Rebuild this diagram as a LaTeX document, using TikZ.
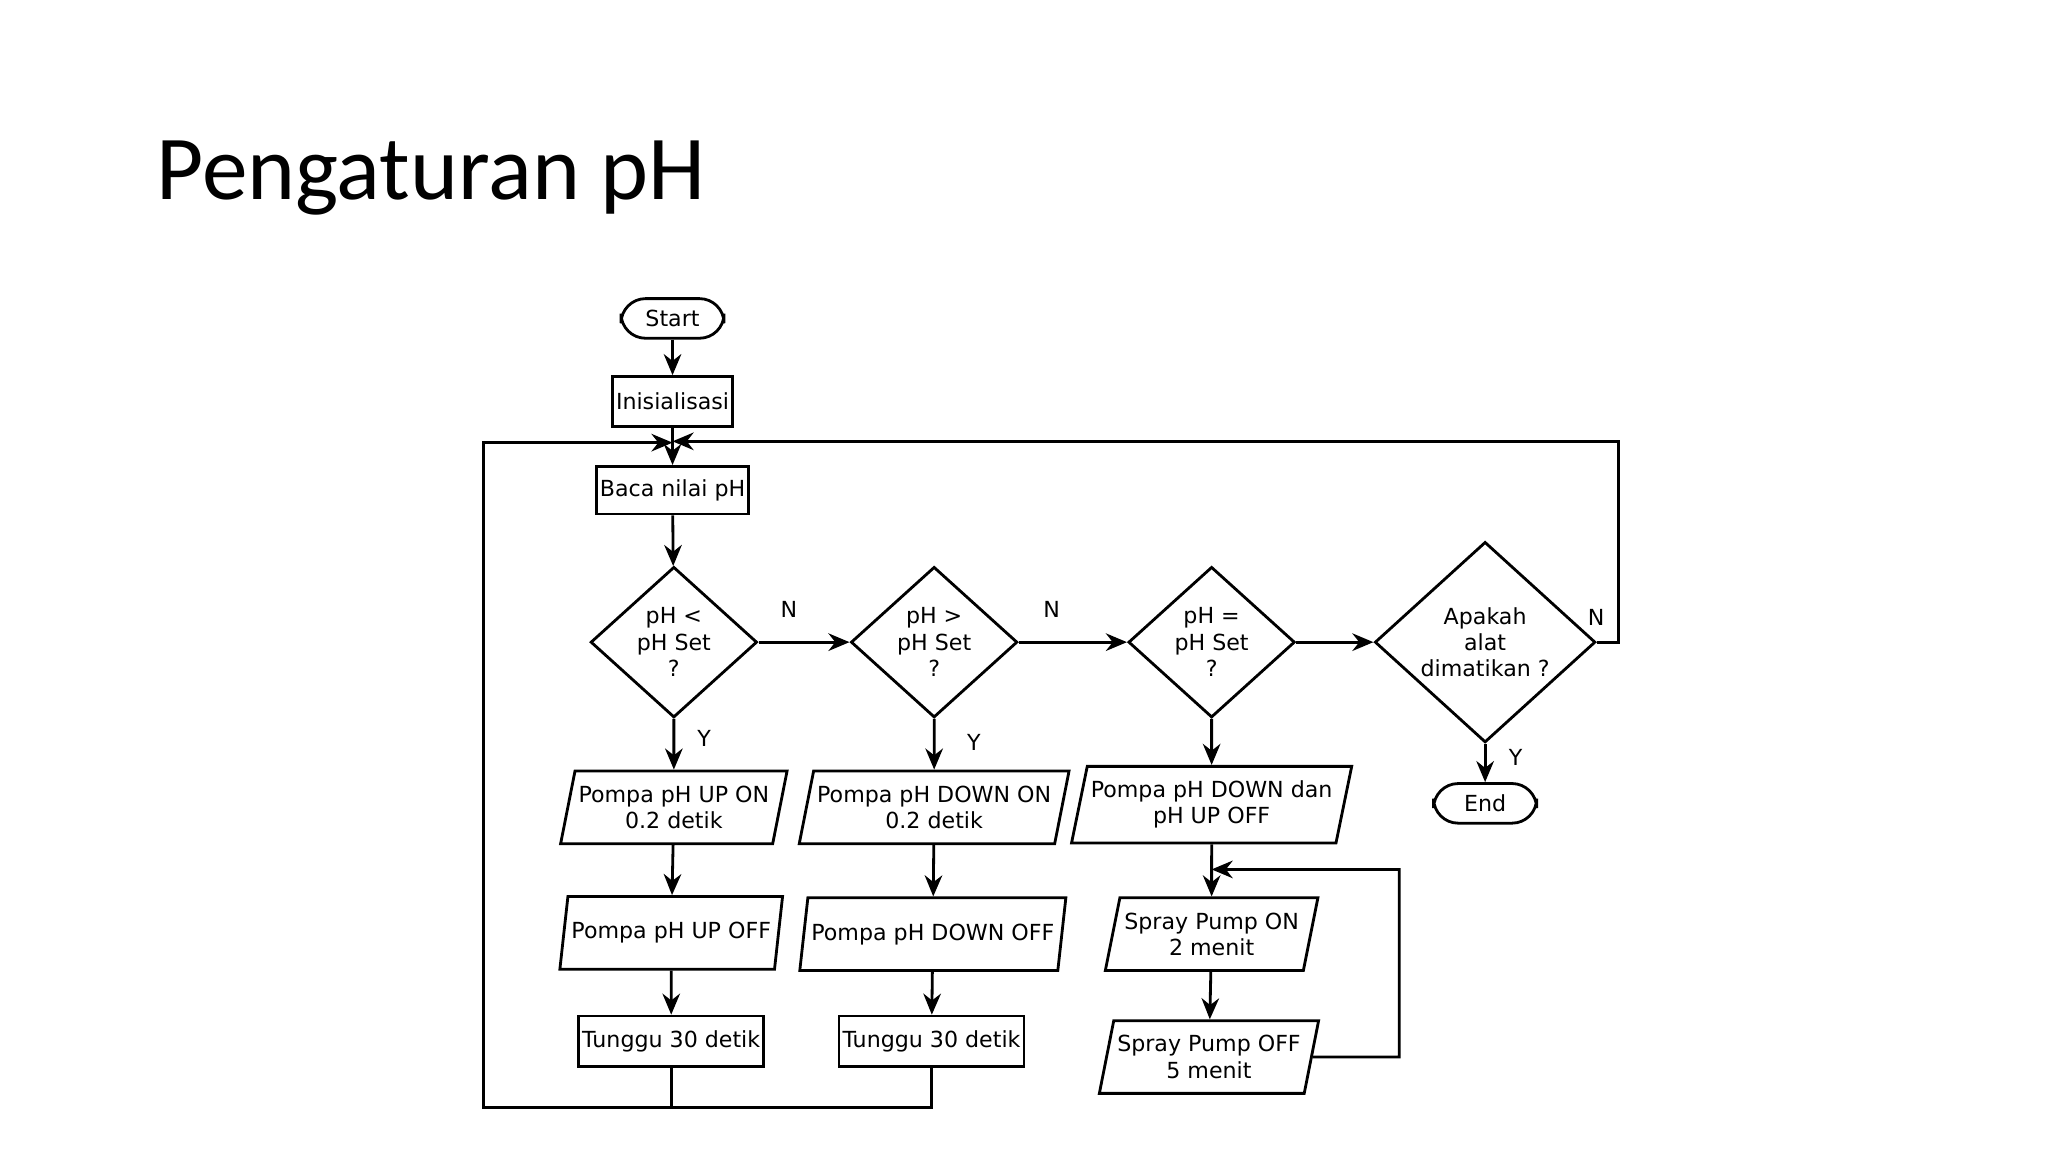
\documentclass[tikz,border=0pt]{standalone}
\usepackage{fontspec}
\setmainfont{Carlito}
\newfontfamily\dv{DejaVu Sans}
\usetikzlibrary{shapes.geometric,arrows.meta}
\def\pxu{0.01321cm}
\begin{document}
\begin{tikzpicture}[x=0.01321cm,y=-0.01321cm,
  every node/.style={font=\dv\fontsize{6.3}{7.5}\selectfont, align=center, inner sep=1pt},
  box/.style={draw, thick, minimum width={#1*\pxu}, minimum height={37*\pxu}},
  term/.style={draw, thick, rounded corners=7pt, minimum width={78*\pxu}, minimum height={30*\pxu}},
  dia/.style={draw, thick, diamond, aspect=1.1, minimum width={126*\pxu}, minimum height={114*\pxu}},
  io/.style={draw, thick, trapezium, trapezium left angle=74, trapezium right angle=106, trapezium stretches=true, minimum width={#1*\pxu}, minimum height={55*\pxu}},
  ar/.style={thick, -{Stealth[length=6pt,width=5pt]}},
  ln/.style={thick}]
\useasboundingbox (0,0) rectangle (1550,872);
\node[font=\fontsize{26}{30}\selectfont, anchor=west, inner sep=0pt] (title) at (118,135) {Pengaturan pH};
\node[term] (start) at (509,241) {Start};
\node[box=80, minimum height={38*\pxu}] (init) at (509,304) {Inisialisasi};
\node[box=98, minimum height={36*\pxu}] (baca) at (509,371) {Baca nilai pH};
\node[dia] (d1) at (510,486) {pH <\\pH Set\\?};
\node[dia] (d2) at (707,486) {pH >\\pH Set\\?};
\node[dia] (d3) at (917,486) {pH =\\pH Set\\?};
\node[dia, minimum width={154*\pxu}, minimum height={140*\pxu}] (d4) at (1124,486) {Apakah\\alat\\dimatikan ?};
\node[term] (end) at (1124,608) {End};
\node[io=168] (p1) at (510,611) {Pompa pH UP ON\\0.2 detik};
\node[io=178] (p2) at (707,611) {Pompa pH DOWN ON\\0.2 detik};
\node[io=193, minimum height={58*\pxu}] (p3) at (917,609) {Pompa pH DOWN dan\\pH UP OFF};
\node[io=168] (p4) at (508,706) {Pompa pH UP OFF};
\node[io=179] (p5) at (706,707) {Pompa pH DOWN OFF};
\node[io=161] (s1) at (917,707) {Spray Pump ON\\2 menit};
\node[box=118, minimum height={38*\pxu}] (t1) at (508,788) {Tunggu 30 detik};
\node[box=118, minimum height={38*\pxu}] (t2) at (705,788) {Tunggu 30 detik};
\node[io=160] (s2) at (915,800) {Spray Pump OFF\\5 menit};
\node (n1) at (597,461) {N};
\node (n2) at (796,461) {N};
\node (n3) at (1208,467) {N};
\node (y1) at (533,559) {Y};
\node (y2) at (737,562) {Y};
\node (y3) at (1147,573) {Y};
\coordinate (jin) at (509,335);
\coordinate (jin2) at (509,334);
\coordinate (jsp) at (917,658);
\draw[ar] (start) -- (init);
\draw[ar] (init) -- (baca);
\draw[ar] (baca) -- (d1);
\draw[ar] (d1) -- (d2);
\draw[ar] (d2) -- (d3);
\draw[ar] (d3) -- (d4);
\draw[ar] (d1) -- (p1);
\draw[ar] (d2) -- (p2);
\draw[ar] (d3) -- (p3);
\draw[ar] (d4) -- (end);
\draw[ar] (p1) -- (p4);
\draw[ar] (p4) -- (t1);
\draw[ar] (p2) -- (p5);
\draw[ar] (p5) -- (t2);
\draw[ar] (p3) -- (s1);
\draw[ar] (s1) -- (s2);
\draw[ln] (t1.south) -- (508,838);
\draw[ln] (t2.south) |- (366,838) |- (494,335);
\draw[ar] (494,335) -- (jin);
\draw[ln] (d4.east) -- (1225,486) |- (540,334);
\draw[ar] (540,334) -- (jin2);
\draw[ln] (s2.east) -- (1059,800) |- (940,658);
\draw[ar] (940,658) -- (jsp);
\end{tikzpicture}
\end{document}
